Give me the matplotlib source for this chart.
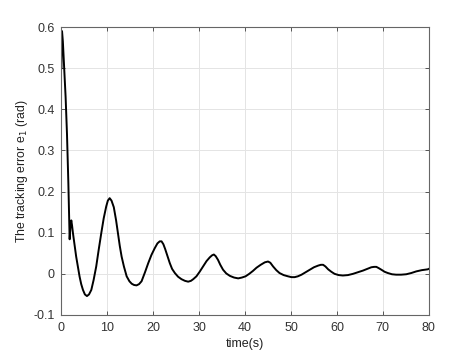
import matplotlib
matplotlib.use("Agg")
import matplotlib.pyplot as plt

plt.rcParams['font.family'] = ['Liberation Sans', 'DejaVu Sans']

# tracking error e1
t = [0.0, 0.05, 0.12, 0.3, 0.6, 0.9, 1.2, 1.5, 1.7, 1.78,
     1.95, 2.14, 2.3, 2.5, 2.85, 3.2, 3.6, 3.95, 4.3, 4.68,
     5.1, 5.55, 6.0, 6.5, 7.0, 7.57, 8.1, 8.67, 9.2, 9.75,
     10.1, 10.5, 10.9, 11.4, 11.9, 12.3, 12.7, 13.1, 13.6, 14.2,
     14.8, 15.3, 15.8, 16.35, 16.9, 17.45, 18.2, 18.9, 19.6, 20.3,
     20.9, 21.4, 21.8, 22.2, 22.6, 23.1, 23.6, 24.1, 24.7, 25.4,
     26.15, 26.9, 27.6, 28.2, 28.7, 29.4, 30.1, 30.85, 31.6, 32.3,
     32.8, 33.2, 33.6, 34.1, 34.6, 35.2, 35.9, 36.7, 37.6, 38.5,
     39.3, 40.1, 40.9, 41.7, 42.5, 43.4, 44.3, 45.0, 45.5, 46.1,
     46.8, 47.5, 48.4, 49.35, 50.1, 50.8, 51.5, 52.3, 53.2, 54.1,
     55.0, 55.9, 56.5, 57.0, 57.5, 58.1, 58.8, 59.5, 60.4, 61.3,
     62.4, 63.5, 64.6, 65.7, 66.6, 67.5, 68.1, 68.6, 69.1, 69.7,
     70.4, 71.1, 72.0, 72.9, 74.0, 75.1, 76.2, 77.3, 78.5, 79.8, 80.0]
e1 = [0.50, 0.57, 0.59, 0.565, 0.50, 0.43, 0.34, 0.22, 0.12, 0.084,
      0.115, 0.130, 0.118, 0.099, 0.070, 0.042, 0.015, -0.007, -0.025, -0.039,
      -0.050, -0.054, -0.050, -0.039, -0.015, 0.018, 0.058, 0.099, 0.135, 0.164,
      0.178, 0.184, 0.178, 0.162, 0.130, 0.099, 0.068, 0.042, 0.018, -0.006,
      -0.018, -0.024, -0.027, -0.028, -0.025, -0.018, 0.004, 0.026, 0.046, 0.062,
      0.074, 0.079, 0.079, 0.072, 0.060, 0.043, 0.026, 0.012, 0.002, -0.007,
      -0.013, -0.017, -0.019, -0.017, -0.013, -0.006, 0.005, 0.018, 0.031, 0.040,
      0.045, 0.047, 0.043, 0.034, 0.022, 0.010, 0.001, -0.005, -0.009, -0.011,
      -0.009, -0.006, 0.000, 0.007, 0.015, 0.022, 0.028, 0.030, 0.027, 0.018,
      0.009, 0.002, -0.003, -0.006, -0.008, -0.008, -0.006, -0.002, 0.004, 0.010,
      0.016, 0.020, 0.022, 0.022, 0.018, 0.011, 0.005, 0.000, -0.003, -0.004,
      -0.003, 0.000, 0.004, 0.008, 0.012, 0.016, 0.017, 0.017, 0.014, 0.010,
      0.005, 0.002, -0.001, -0.002, -0.002, -0.001, 0.002, 0.006, 0.009, 0.011, 0.012]

xticks = [0, 10, 20, 30, 40, 50, 60, 70, 80]
yticks = [-0.1, 0, 0.1, 0.2, 0.3, 0.4, 0.5, 0.6]
ytick_labels = ['-0.1', '0', '0.1', '0.2', '0.3', '0.4', '0.5', '0.6']

fig = plt.figure(figsize=(4.74, 3.55), dpi=100)
ax = fig.add_axes([0.1297, 0.1127, 0.7747, 0.8112])

ax.plot(t, e1, color='black', lw=1.4, solid_joinstyle='round')

ax.set_xlim(0, 80)
ax.set_ylim(-0.1, 0.6)
ax.set_xticks(xticks)
ax.set_yticks(yticks)
ax.set_yticklabels(ytick_labels)

# matlab-ish look: box on, inward ticks, faint grid
ax.grid(True, color='#e4e4e4', lw=0.7)
ax.set_axisbelow(True)
ax.tick_params(direction='in', length=3, width=0.7, colors='#555555',
               labelcolor='#333333', labelsize=9, top=True, right=True, pad=5)
for s in ax.spines.values():
    s.set_color('#666666')
    s.set_linewidth(0.8)

ax.set_xlabel('time(s)', fontsize=9, color='#222222', labelpad=3)
ax.set_ylabel('The tracking error e$_1$ (rad)', fontsize=8.8, color='#222222',
              labelpad=2)

fig.savefig('out.png', dpi=100)
